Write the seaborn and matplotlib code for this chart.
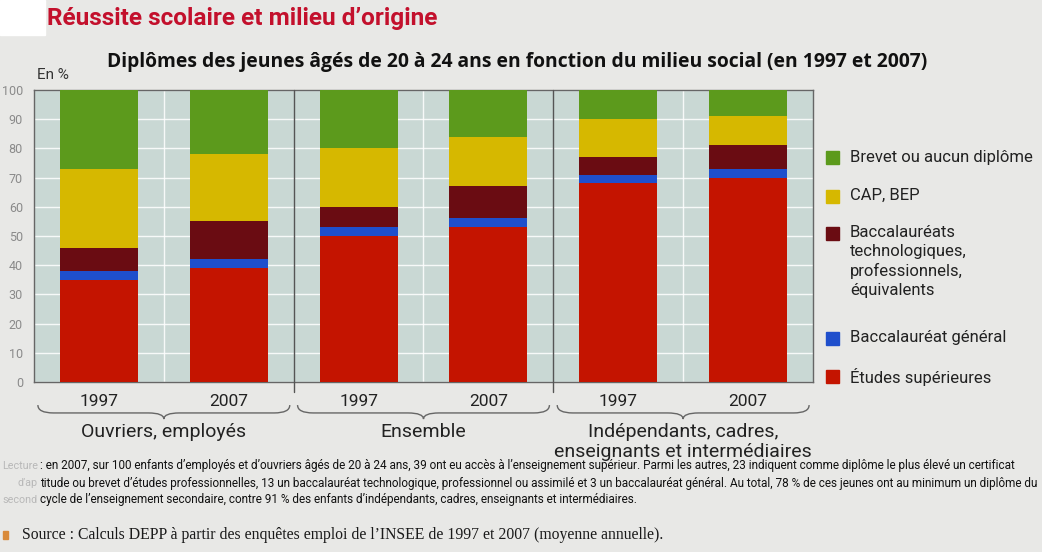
import numpy as np
import pandas as pd
import matplotlib
matplotlib.use('Agg')
import matplotlib.pyplot as plt
import matplotlib.transforms as mtransforms
from matplotlib.path import Path
from matplotlib.patches import PathPatch, Rectangle
import seaborn as sns

# données (en %)
groupes = ["Ouvriers, employés", "Ensemble",
           "Indépendants, cadres,\nenseignants et intermédiaires"]
annees = ["1997", "2007", "1997", "2007", "1997", "2007"]
etudes_sup = [35, 39, 50, 53, 68, 70]
bac_general = [3, 3, 3, 3, 3, 3]
bac_techno = [8, 13, 7, 11, 6, 8]
cap_bep = [27, 23, 20, 17, 13, 10]
brevet = [27, 22, 20, 16, 10, 9]

legende = ["Brevet ou aucun diplôme", "CAP, BEP",
           "Baccalauréats\ntechnologiques,\nprofessionnels,\néquivalents",
           "Baccalauréat général", "Études supérieures"]

COULEURS = {
    'brevet': '#5c9a1c',
    'cap': '#d6b800',
    'techno': '#6a0c12',
    'general': '#1f4fcc',
    'sup': '#c41400',
}

sns.set_style('white')
TXT = ['Roboto', 'DejaVu Sans']
NARROW = ['Liberation Sans Narrow', 'Roboto', 'DejaVu Sans']
SERIF = ['Liberation Serif', 'DejaVu Serif']
plt.rcParams['font.family'] = TXT

barres = [f"{g.split(',')[0]} {a}" for g, a in zip(np.repeat(groupes, 2), annees)]
df = pd.DataFrame({
    'barre': barres,
    'sup': etudes_sup,
    'general': bac_general,
    'techno': bac_techno,
    'cap': cap_bep,
    'brevet': brevet,
})
couches = ['sup', 'general', 'techno', 'cap', 'brevet']
cumul = df[couches].cumsum(axis=1)

fig = plt.figure(figsize=(10.42, 5.52), dpi=100, facecolor='#e8e8e6')
ax = fig.add_axes([34 / 1042, 1 - 382 / 552, (813 - 34) / 1042, (382 - 90) / 552])
ax.set_facecolor('#c9d8d4')
renderer = fig.canvas.get_renderer()

# ajuste la taille de police pour retrouver la largeur du texte d'origine
def ajuste(t, largeur):
    for _ in range(4):
        w = t.get_window_extent(renderer).width
        t.set_fontsize(t.get_fontsize() * largeur / w)
    return t

# barres empilées : on dessine les cumuls du plus haut au plus bas
for c in reversed(couches):
    sns.barplot(x=df['barre'], y=cumul[c], color=COULEURS[c], width=0.6,
                saturation=1, errorbar=None, linewidth=0, zorder=3, ax=ax)

ax.set_ylim(0, 100)
ax.set_xlim(-0.5, 5.5)
ax.set_xlabel('')
ax.set_ylabel('')
ax.set_yticks(np.arange(0, 101, 10))
ax.tick_params(axis='y', length=5, color='#777', labelsize=9, labelcolor='#8a8a8a', pad=3)
ax.set_xticks(range(6))
ax.set_xticklabels(annees)
ax.tick_params(axis='x', which='major', length=0, labelsize=12.5, labelcolor='#222', pad=9)
ax.set_xticks([0.5, 2.5, 4.5], minor=True)
ax.tick_params(axis='x', which='minor', length=7, color='#444', width=1)
ax.grid(False)
ax.yaxis.grid(True, color='white', lw=1, alpha=0.85, zorder=1)
ax.xaxis.grid(True, which='minor', color='white', lw=1, alpha=0.85, zorder=1)
ax.set_axisbelow(True)
for s in ax.spines.values():
    s.set_visible(True)
    s.set_color('#666')
    s.set_linewidth(1)

trans = mtransforms.blended_transform_factory(ax.transData, ax.transAxes)
# séparateurs entre groupes
for xs in [1.5, 3.5]:
    ax.plot([xs, xs], [-0.035, 1], transform=trans, color='#555', lw=1, clip_on=False, zorder=4)

# accolades sous les années
def accolade(x0, x1, y0=-0.079, y1=-0.106, y2=-0.127, r=0.12):
    m = (x0 + x1) / 2
    verts = [(x0, y0), (x0, y1), (x0 + r, y1), (m - r, y1), (m, y1), (m, y2),
             (m, y1), (m + r, y1), (x1 - r, y1), (x1, y1), (x1, y0)]
    codes = [Path.MOVETO, Path.CURVE3, Path.CURVE3, Path.LINETO, Path.CURVE3, Path.CURVE3,
             Path.CURVE3, Path.CURVE3, Path.LINETO, Path.CURVE3, Path.CURVE3]
    ax.add_patch(PathPatch(Path(verts, codes), transform=trans, fill=False,
                           edgecolor='#666', lw=1, clip_on=False))

for i, g in enumerate(groupes):
    x0 = 2 * i - 0.47
    accolade(x0, x0 + 1.94)
    ax.text(2 * i + 0.5, -0.142, g, transform=trans, ha='center', va='top',
            fontsize=14, color='#222', linespacing=1.1)

# titres
fig.patches.append(Rectangle((0, 1 - 35 / 552), 45 / 1042, 35 / 552,
                             transform=fig.transFigure, color='white', zorder=0))
t = fig.text(47 / 1042, 1 - 18 / 552, "Réussite scolaire et milieu d’origine", family=NARROW,
             fontweight='bold', fontsize=20, color='#c3102c', va='center')
ajuste(t, 390)
t = fig.text(107 / 1042, 1 - 62 / 552,
             "Diplômes des jeunes âgés de 20 à 24 ans en fonction du milieu social (en 1997 et 2007)",
             family=['Open Sans', 'Roboto', 'DejaVu Sans'],
             fontweight='bold', fontsize=12.5, color='#111', va='center')
ajuste(t, 818)
fig.text(37 / 1042, 1 - 75 / 552, "En %", fontsize=11, color='#333', va='center')

# légende manuelle
leg_y = [158, 196, 233, 338, 376]
for lab, c, y in zip(legende, ['brevet', 'cap', 'techno', 'general', 'sup'], leg_y):
    fig.patches.append(Rectangle((826 / 1042, 1 - (y + 6.5) / 552), 13 / 1042, 13 / 552,
                                 transform=fig.transFigure, color=COULEURS[c]))
    fig.text(850 / 1042, 1 - (y - 8) / 552, lab, fontsize=12, color='#222',
             va='top', linespacing=1.32)

# notes
lignes = [
    ("Lecture", ": en 2007, sur 100 enfants d’employés et d’ouvriers âgés de 20 à 24 ans, 39 ont eu accès à l’enseignement supérieur. Parmi les autres, 23 indiquent comme diplôme le plus élevé un certificat", 466),
    ("d’ap", "titude ou brevet d’études professionnelles, 13 un baccalauréat technologique, professionnel ou assimilé et 3 un baccalauréat général. Au total, 78 % de ces jeunes ont au minimum un diplôme du", 483),
    ("second", "cycle de l’enseignement secondaire, contre 91 % des enfants d’indépendants, cadres, enseignants et intermédiaires.", 500),
]
textes = []
for pre, txt, y in lignes:
    t = fig.text(40 / 1042, 1 - y / 552, txt, family=NARROW, fontsize=9, color='#111', va='center')
    textes.append(t)
taille = min(ajuste(textes[0], 995).get_fontsize(), ajuste(textes[1], 995).get_fontsize())
for (pre, txt, y), t in zip(lignes, textes):
    t.set_fontsize(taille)
    fig.text(38 / 1042, 1 - y / 552, pre, family=NARROW, fontsize=taille * 0.92,
             color='#b8b8b8', ha='right', va='center')

fig.patches.append(Rectangle((3 / 1042, 1 - 539 / 552), 5 / 1042, 8 / 552,
                             transform=fig.transFigure, color='#d98a3a'))
t = fig.text(22 / 1042, 1 - 535 / 552,
             "Source : Calculs DEPP à partir des enquêtes emploi de l’INSEE de 1997 et 2007 (moyenne annuelle).",
             family=SERIF, fontsize=11, color='#1a1a1a', va='center')
ajuste(t, 638)

fig.savefig('out.png', dpi=100, facecolor=fig.get_facecolor())
